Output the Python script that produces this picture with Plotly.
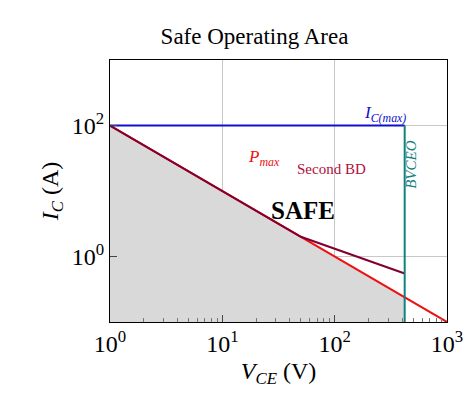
import plotly.graph_objects as go

pmax_v = [1, 1000]
pmax_i = [100, 0.1]
sbd_v = [1, 50, 420]
sbd_i = [100, 2, 0.55]
icmax_v = [1, 420]
icmax_i = [100, 100]
bv_v = [420, 420]
bv_i = [100, 0.1]
safe_v = [1, 420, 420, 1]
safe_i = [100, 100/420, 0.1, 0.1]
xticks = [1, 10, 100, 1000]
xlabels = ["10<sup>0</sup>", "10<sup>1</sup>", "10<sup>2</sup>", "10<sup>3</sup>"]
yticks = [1, 100]
ylabels = ["10<sup>0</sup>", "10<sup>2</sup>"]
xminor = [m * 10**d for d in range(3) for m in range(2, 10)]

F = "Liberation Serif"
fig = go.Figure()
fig.add_trace(go.Scatter(x=safe_v, y=safe_i, fill="toself", fillcolor="#d9d9d9",
                         line=dict(width=0), mode="lines", hoverinfo="skip"))
fig.add_trace(go.Scatter(x=pmax_v, y=pmax_i, mode="lines", line=dict(color="#ee1111", width=2)))
fig.add_trace(go.Scatter(x=sbd_v, y=sbd_i, mode="lines", line=dict(color="#800030", width=2)))
fig.add_trace(go.Scatter(x=icmax_v, y=icmax_i, mode="lines", line=dict(color="#1010cc", width=2)))
fig.add_trace(go.Scatter(x=bv_v, y=bv_i, mode="lines", line=dict(color="#108080", width=2)))

ann = [
    dict(x=2.45, y=2.18, text="<i>I</i><sub><i>C(max)</i></sub>", font=dict(color="#1010cc", size=17)),
    dict(x=1.37, y=1.5, text="<i>P</i><sub><i>max</i></sub>", font=dict(color="#ee1111", size=17)),
    dict(x=1.97, y=1.33, text="Second BD", font=dict(color="#b0103a", size=15)),
    dict(x=2.68, y=1.4, text="<i>BVCEO</i>", textangle=-90, font=dict(color="#108080", size=15)),
    dict(x=1.72, y=0.7, text="<b>SAFE</b>", font=dict(color="black", size=25)),
]
for a in ann:
    a.update(xref="x", yref="y", showarrow=False)
    a["font"]["family"] = F
fig.update_layout(
    annotations=ann,
    width=474, height=406, showlegend=False,
    plot_bgcolor="white", paper_bgcolor="white",
    margin=dict(l=102, r=35, t=52, b=92),
    font=dict(family=F, color="black"),
    title=dict(text="Safe Operating Area", x=0.52, xanchor="center", y=0.95,
               font=dict(family=F, size=23)),
    xaxis=dict(type="log", range=[0, 3], tickvals=xticks, ticktext=xlabels,
               tickfont=dict(size=24), showgrid=True, gridcolor="#c8c8c8",
               showline=True, linecolor="black", mirror=True, ticks="inside",
               ticklen=7, zeroline=False,
               minor=dict(tickvals=xminor, ticks="inside", ticklen=4, showgrid=False, tickcolor="#777"),
               title=dict(text="<i>V</i><sub><i>CE</i></sub> (V)", font=dict(size=24), standoff=6)),
    yaxis=dict(type="log", range=[-1, 3], tickvals=yticks, ticktext=ylabels,
               tickfont=dict(size=24), showgrid=True, gridcolor="#c8c8c8",
               showline=True, linecolor="black", mirror=True, ticks="inside",
               ticklen=7, zeroline=False,
               title=dict(text="<i>I</i><sub><i>C</i></sub> (A)", font=dict(size=24), standoff=6)),
)
fig.write_html("out.html")
